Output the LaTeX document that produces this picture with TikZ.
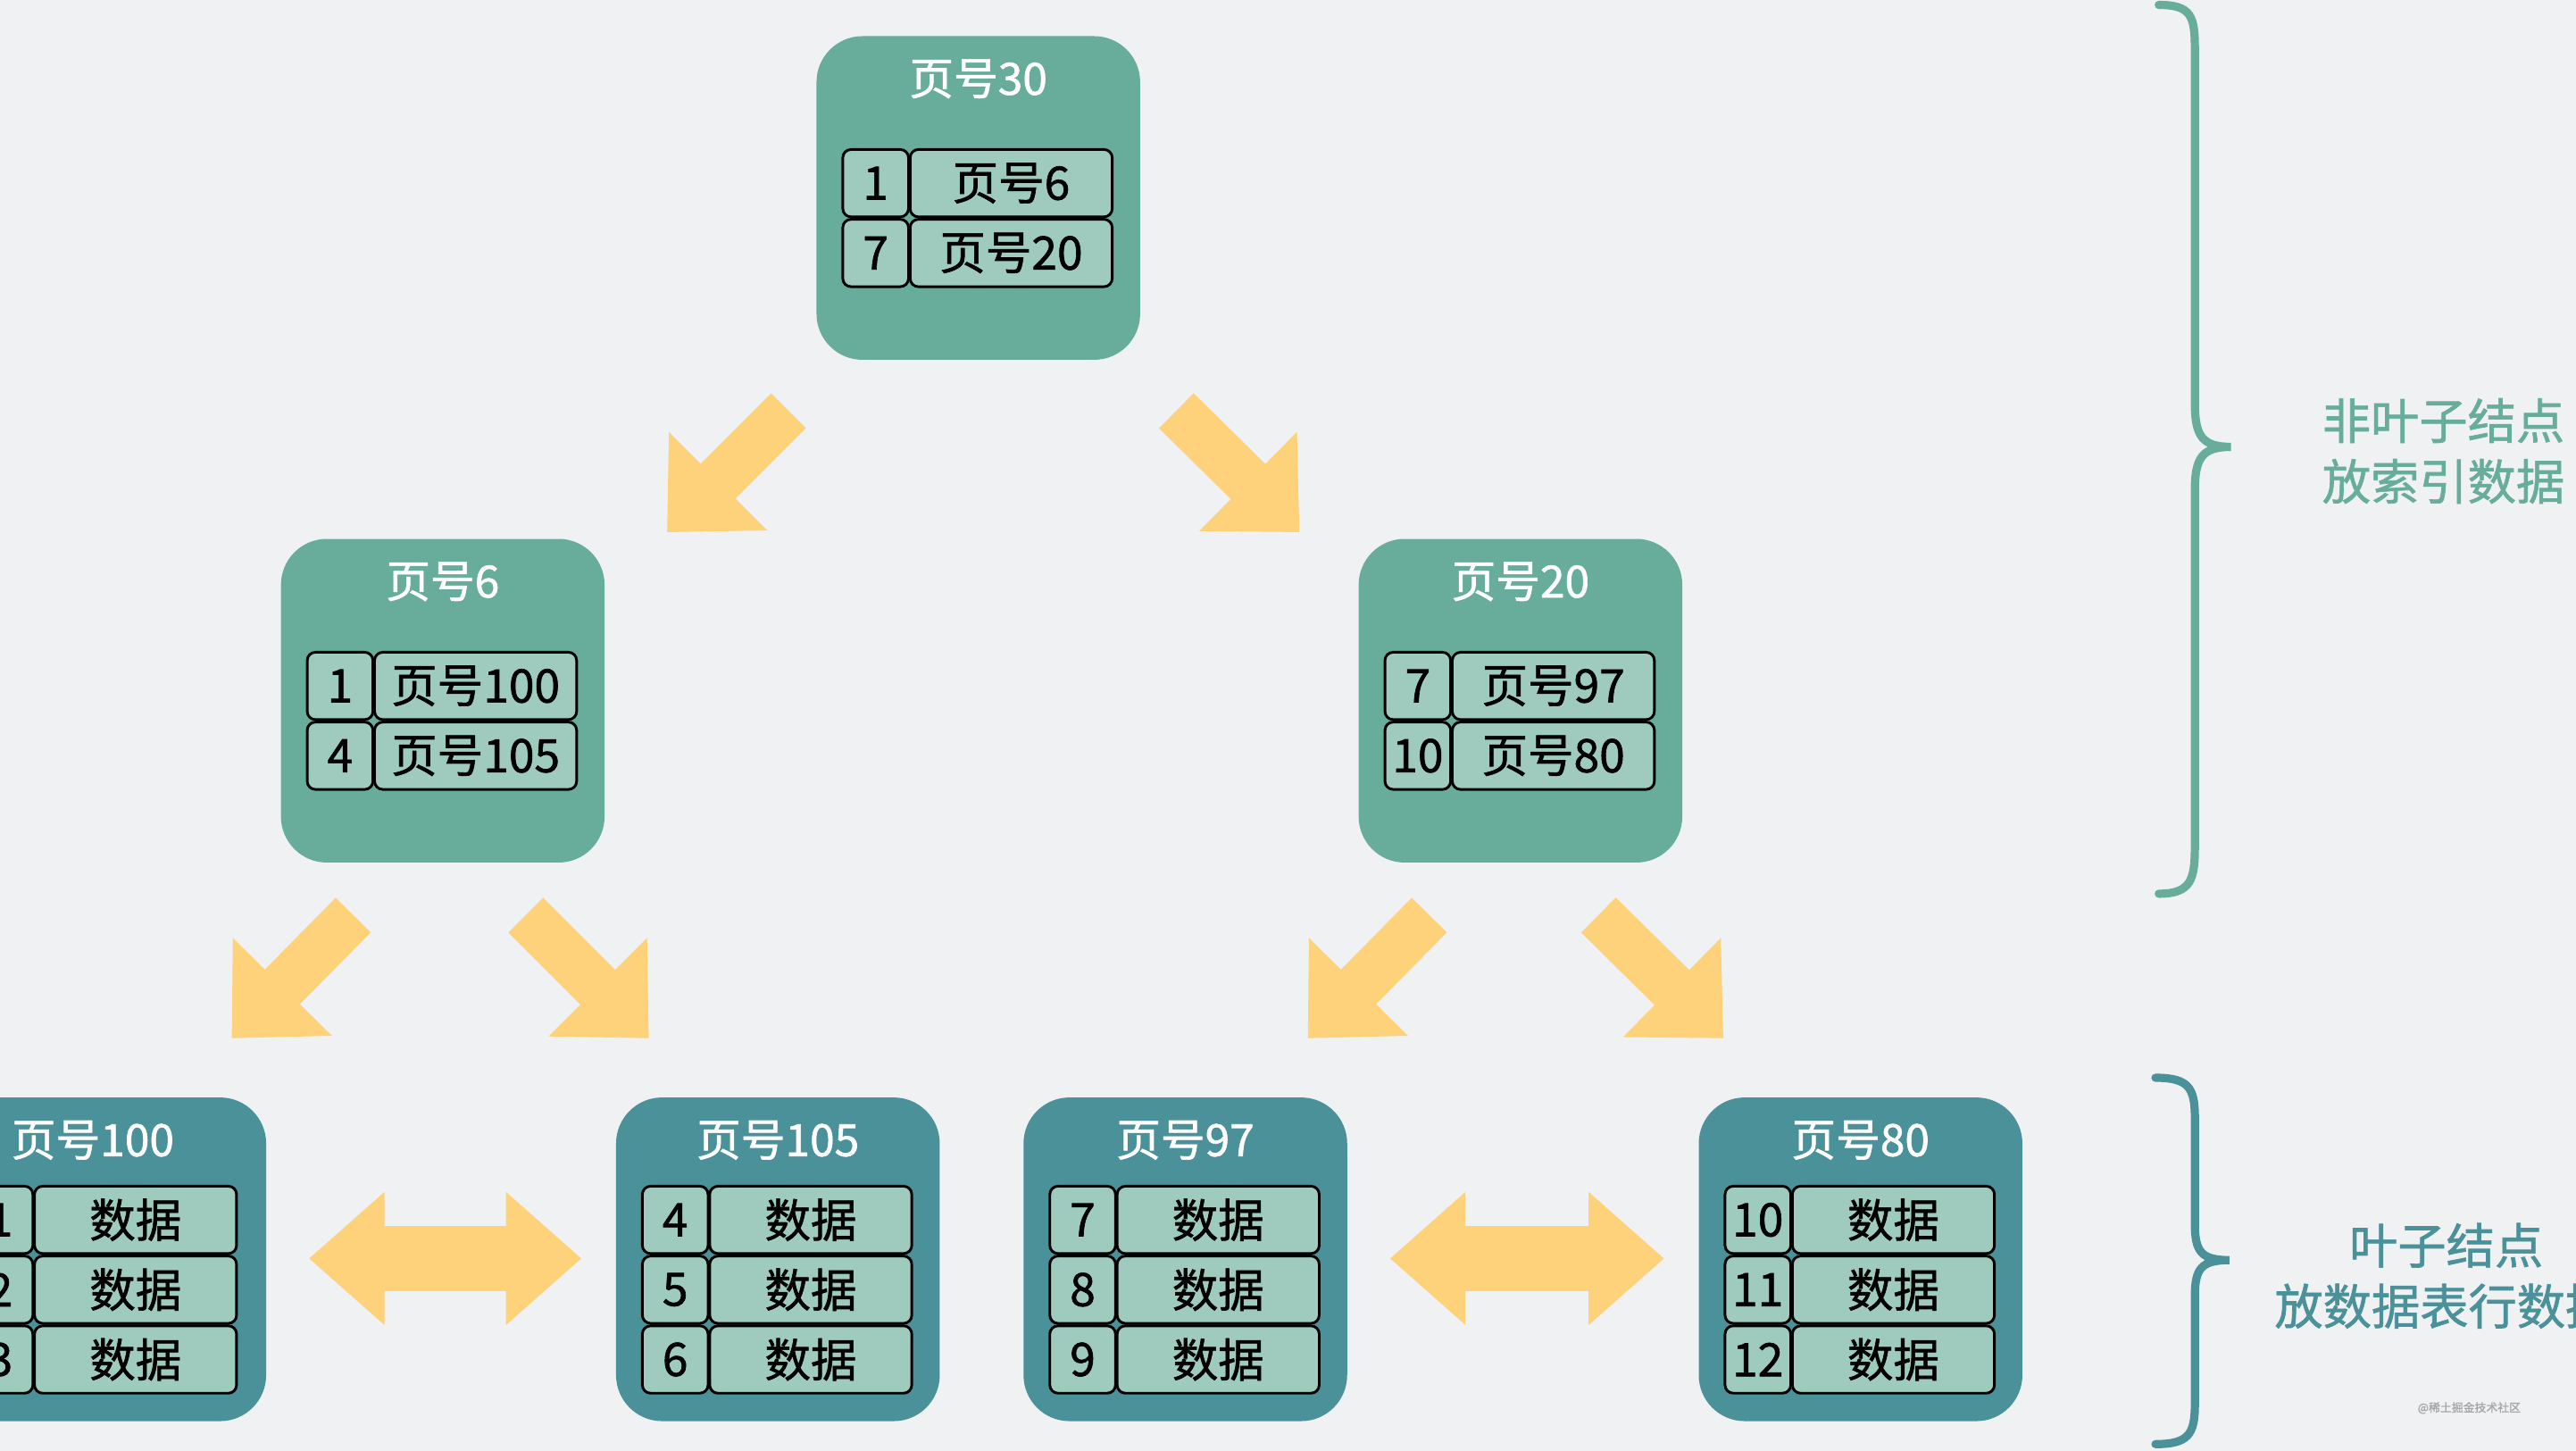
\documentclass[tikz,border=0pt]{standalone}
\usepackage{fontspec}
\setmainfont[FakeBold=1.2]{Noto Sans CJK SC}
\usetikzlibrary{arrows.meta}
\definecolor{bg}{HTML}{EFF1F3}
\definecolor{inner}{HTML}{68AD9C}
\definecolor{leaf}{HTML}{4B9199}
\definecolor{cellc}{HTML}{9ECBBD}
\definecolor{arr}{HTML}{FDD27A}
\tikzset{
 pbox/.style={rounded corners=28pt,inner sep=0pt,minimum width=197pt,minimum height=197pt},
 ptitle/.style={text=white,font=\fontsize{27}{28}\selectfont},
 cell/.style={draw=black,line width=1.6pt,fill=cellc,rounded corners=5pt,inner sep=0pt,minimum height=41pt,font=\fontsize{28}{29}\selectfont},
 diag/.style={arr,line width=30pt,-{Triangle[width=82pt,length=44pt]}},
 dbl/.style={arr,line width=40pt,{Triangle[width=78pt,length=46pt]}-{Triangle[width=78pt,length=46pt]}},
 brace/.style={line width=5pt,line cap=round},
 side/.style={font=\fontsize{29.5}{30}\selectfont,anchor=west}
}
\newcommand\pagebox[5]{%
 \node[pbox,fill=#4] (#1) at ({#2+98.5},{#3+98.5}) {};
 \node[ptitle] (#1t) at ({#2+98.5},{#3+26}) {#5};}
\newcommand\prow[5]{% name, boxx, y1, key, val
 \node[cell,minimum width=40pt] (#1k) at ({#2+36},{#3+20.5}) {#4};
 \node[cell,minimum width=123pt] (#1v) at ({#2+118.5},{#3+20.5}) {#5};}
\begin{document}
\begin{tikzpicture}[x=1pt,y=-1pt]
\useasboundingbox (0,0) rectangle (1568,883);
\clip (0,0) rectangle (1568,883);
\fill[bg] (0,0) rectangle (1568,883);
% internal pages
\pagebox{p30}{497}{22}{inner}{页号30}
\prow{p30a}{497}{91}{1}{页号6}
\prow{p30b}{497}{133.5}{7}{页号20}
\pagebox{p6}{171}{328}{inner}{页号6}
\prow{p6a}{171}{397}{1}{页号100}
\prow{p6b}{171}{439.5}{4}{页号105}
\pagebox{p20}{827}{328}{inner}{页号20}
\prow{p20a}{827}{397}{7}{页号97}
\prow{p20b}{827}{439.5}{10}{页号80}
% leaves
\pagebox{p100}{-35}{668}{leaf}{\hspace*{-14pt}页号100}
\prow{p100a}{-36}{722}{1}{数据}
\prow{p100b}{-36}{764.5}{2}{数据}
\prow{p100c}{-36}{807}{3}{数据}
\pagebox{p105}{375}{668}{leaf}{页号105}
\prow{p105a}{375}{722}{4}{数据}
\prow{p105b}{375}{764.5}{5}{数据}
\prow{p105c}{375}{807}{6}{数据}
\pagebox{p97}{623}{668}{leaf}{页号97}
\prow{p97a}{623}{722}{7}{数据}
\prow{p97b}{623}{764.5}{8}{数据}
\prow{p97c}{623}{807}{9}{数据}
\pagebox{p80}{1034}{668}{leaf}{页号80}
\prow{p80a}{1034}{722}{10}{数据}
\prow{p80b}{1034}{764.5}{11}{数据}
\prow{p80c}{1034}{807}{12}{数据}
% arrows
\coordinate (a1s) at (480,250); \coordinate (a1e) at (406,324);
\coordinate (a2s) at (716,250); \coordinate (a2e) at (791,324);
\coordinate (a3s) at (215,557); \coordinate (a3e) at (141,632);
\coordinate (a4s) at (320,557); \coordinate (a4e) at (395,632);
\coordinate (a5s) at (870,557); \coordinate (a5e) at (796,632);
\coordinate (a6s) at (973,557); \coordinate (a6e) at (1049,632);
\foreach \i in {1,...,6}{\draw[diag] (a\i s) -- (a\i e);}
\coordinate (d1s) at (188,766); \coordinate (d1e) at (354,766);
\coordinate (d2s) at (846,766); \coordinate (d2e) at (1013,766);
\draw[dbl] (d1s) -- (d1e);
\draw[dbl] (d2s) -- (d2e);
% braces
\draw[brace,inner] (1314,3) .. controls (1334,3) and (1336,10) .. (1336,30) -- (1336,245)
 .. controls (1336,265) and (1340,272) .. (1358,272)
 .. controls (1340,272) and (1336,279) .. (1336,299) -- (1336,515)
 .. controls (1336,535) and (1334,544) .. (1314,544);
\draw[brace,leaf] (1312,656) .. controls (1332,656) and (1336,662) .. (1336,680) -- (1336,745)
 .. controls (1336,762) and (1340,767) .. (1357,767)
 .. controls (1340,767) and (1336,772) .. (1336,789) -- (1336,855)
 .. controls (1336,873) and (1332,879) .. (1312,879);
\node[side,text=inner] (t1) at (1410,256) {非叶子结点};
\node[side,text=inner] (t2) at (1410,293) {放索引数据};
\node[side,text=leaf,anchor=center] (t3) at (1489,758) {叶子结点};
\node[side,text=leaf] (t4) at (1381,795) {放数据表行数据};
\node[text=gray!70,font=\fontsize{7}{8}\selectfont] (wm) at (1503,857) {@稀土掘金技术社区};
\end{tikzpicture}
\end{document}
